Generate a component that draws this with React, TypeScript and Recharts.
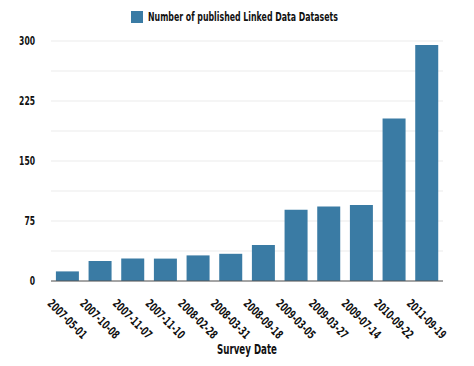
import { BarChart, Bar, XAxis, YAxis, CartesianGrid, Legend } from 'recharts'

const surveyDates = [
  '2007-05-01', '2007-10-08', '2007-11-07', '2007-11-10', '2008-02-28', '2008-03-31',
  '2008-09-18', '2009-03-05', '2009-03-27', '2009-07-14', '2010-09-22', '2011-09-19',
]
const datasetCounts = [12, 25, 28, 28, 32, 34, 45, 89, 93, 95, 203, 295]
const yTicks = [0, 37.5, 75, 112.5, 150, 187.5, 225, 262.5, 300]
const labelledTicks = [0, 75, 150, 225, 300]
const seriesName = 'Number of published Linked Data Datasets'

const data = surveyDates.map((date, i) => ({ date, count: datasetCounts[i] }))

const FONT = '"DejaVu Sans Condensed", "Liberation Sans", sans-serif'
const BAR_COLOR = '#3a7ba4'

// condensed bold look: squeeze the text to the widths of the reference
const DateTick = ({ x, y, payload }: any) => {
  const cy = y + 30
  return (
    <text
      x={x}
      y={cy}
      dy="0.35em"
      textAnchor="middle"
      transform={`rotate(45, ${x}, ${cy})`}
      fontFamily={FONT}
      fontWeight="bold"
      fontSize={12}
      textLength={50}
      lengthAdjust="spacingAndGlyphs"
      fill="#111"
    >
      {payload.value}
    </text>
  )
}

const CountTick = ({ x, y, payload }: any) => {
  if (!labelledTicks.includes(payload.value)) return null
  const label = String(payload.value)
  return (
    <text
      x={x}
      y={y}
      dy="0.35em"
      textAnchor="end"
      fontFamily={FONT}
      fontWeight="bold"
      fontSize={12}
      textLength={label.length * 5.3}
      lengthAdjust="spacingAndGlyphs"
      fill="#111"
    >
      {label}
    </text>
  )
}

const LegendBox = () => (
  <svg width={474} height={24} style={{ display: 'block' }}>
    <rect x={131} y={11} width={12} height={12} fill={BAR_COLOR} />
    <text
      x={148}
      y={17}
      dy="0.35em"
      fontFamily={FONT}
      fontWeight="bold"
      fontSize={12}
      textLength={190}
      lengthAdjust="spacingAndGlyphs"
      fill="#111"
    >
      {seriesName}
    </text>
  </svg>
)

export default function App() {
  return (
    <div style={{ position: 'absolute', left: 0, top: 0, background: '#fff' }}>
      <BarChart
        width={474}
        height={366}
        data={data}
        margin={{ top: 17, right: 31, left: 0, bottom: 0 }}
        barCategoryGap="15%"
      >
        <CartesianGrid vertical={false} stroke="#ebebeb" />
        <XAxis
          dataKey="date"
          interval={0}
          tickLine={false}
          axisLine={{ stroke: '#555', strokeWidth: 1 }}
          tick={<DateTick />}
          height={85}
          label={{
            value: 'Survey Date',
            position: 'insideBottom',
            offset: 12,
            style: { fontFamily: FONT, fontWeight: 'bold', fontSize: 14, fill: '#111' },
            textLength: 60,
            lengthAdjust: 'spacingAndGlyphs',
          }}
        />
        <YAxis
          width={51}
          domain={[0, 300]}
          ticks={yTicks}
          interval={0}
          axisLine={false}
          tickLine={false}
          tickMargin={10}
          tick={<CountTick />}
        />
        <Legend
          verticalAlign="top"
          align="left"
          wrapperStyle={{ top: 0, left: 0, width: 474 }}
          content={<LegendBox />}
        />
        <Bar dataKey="count" name={seriesName} fill={BAR_COLOR} isAnimationActive={false} />
      </BarChart>
    </div>
  )
}
